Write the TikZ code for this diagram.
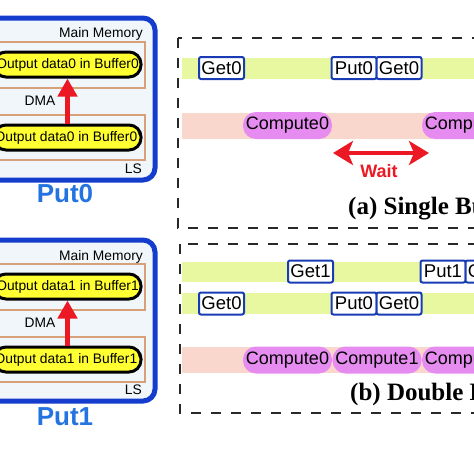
\documentclass[tikz,border=0pt]{standalone}
\usepackage{fontspec}
\setmainfont{Liberation Sans}
\newfontfamily\capfont{Liberation Serif}
\usetikzlibrary{arrows.meta}
\definecolor{memblue}{RGB}{20,60,205}
\definecolor{memfill}{RGB}{240,246,250}
\definecolor{tanc}{RGB}{215,160,120}
\definecolor{pilly}{RGB}{255,255,50}
\definecolor{arrred}{RGB}{235,25,35}
\definecolor{putblue}{RGB}{35,115,225}
\definecolor{bandg}{RGB}{232,248,160}
\definecolor{bandp}{RGB}{250,215,205}
\definecolor{compc}{RGB}{230,140,240}
\definecolor{boxblue}{RGB}{25,60,180}
\definecolor{dashc}{RGB}{40,40,40}
\tikzset{
  membox/.style={draw=memblue, line width=5pt, fill=memfill, rounded corners=12pt},
  tanrect/.style={draw=tanc, line width=2.5pt},
  pill/.style={draw=black, line width=3pt, fill=pilly, rounded corners=12pt,
    minimum height=25pt, minimum width=147pt, inner sep=0pt,
    font=\fontsize{13.8}{15}\selectfont},
  smalltext/.style={inner sep=0pt, font=\fontsize{13.8}{15}\selectfont},
  putlabel/.style={inner sep=0pt, text=putblue, font=\fontsize{26}{28}\selectfont\bfseries},
  dmaarrow/.style={draw=arrred, line width=5pt, -{Triangle[width=19pt,length=18pt]}},
  waitarrow/.style={draw=arrred, line width=4pt, {Stealth[width=24pt,length=20pt,inset=5pt]}-{Stealth[width=24pt,length=20pt,inset=5pt]}},
  waittext/.style={inner sep=0pt, text=arrred, font=\fontsize{18}{20}\selectfont\bfseries},
  frame/.style={draw=dashc, line width=1.5pt, dash pattern=on 10pt off 10pt},
  gband/.style={fill=bandg},
  pband/.style={fill=bandp},
  xferbox/.style={draw=boxblue, line width=2pt, fill=white, rounded corners=2pt,
    minimum width=45pt, minimum height=22pt, inner sep=0pt,
    font=\fontsize{18.5}{19}\selectfont},
  comppill/.style={fill=compc, rounded corners=13pt, minimum width=89pt, minimum height=27pt,
    inner sep=0pt, font=\fontsize{18}{19}\selectfont},
  captext/.style={inner sep=0pt, font=\fontsize{25}{27}\selectfont\capfont\bfseries}
}
\begin{document}
\begin{tikzpicture}[x=1pt,y=-1pt]
\useasboundingbox (0,0) rectangle (474,474);
\clip (0,0) rectangle (474,474);
\fill[white] (0,0) rectangle (474,474);

% ---------- left: Put0 ----------
\draw[membox] (-20,18) rectangle (155,180);
\draw[tanrect] (-20,42) rectangle (145,88);
\draw[tanrect] (-20,115) rectangle (145,160);
\node[smalltext, anchor=east] (mm0) at (143,34) {Main Memory};
\node[pill] (p0a) at (67.5,64.5) {Output data0 in Buffer0};
\node[pill] (p0b) at (67.5,137.5) {Output data0 in Buffer0'};
\node[smalltext] (dma0) at (40,101) {DMA};
\draw[dmaarrow] (p0b.north) -- (p0a.south);
\node[smalltext, anchor=east] (ls0) at (142,169) {LS};
\node[putlabel] (put0) at (65,194) {Put0};

% ---------- left: Put1 ----------
\draw[membox] (-20,240) rectangle (155,401);
\draw[tanrect] (-20,264) rectangle (145,310);
\draw[tanrect] (-20,337) rectangle (145,382);
\node[smalltext, anchor=east] (mm1) at (143,257) {Main Memory};
\node[pill] (p1a) at (67.5,286.5) {Output data1 in Buffer1};
\node[pill] (p1b) at (67.5,359.5) {Output data1 in Buffer1'};
\node[smalltext] (dma1) at (40,323) {DMA};
\draw[dmaarrow] (p1b.north) -- (p1a.south);
\node[smalltext, anchor=east] (ls1) at (142,390) {LS};
\node[putlabel] (put1) at (65,417) {Put1};

% ---------- right (a) single buffer ----------
\draw[frame] (178,38) rectangle (520,228);
\fill[gband] (182,58) rectangle (520,79);
\fill[pband] (182,113) rectangle (520,139);
\node[xferbox] (ag0) at (221.5,68) {Get0};
\node[xferbox] (ap0) at (354,68) {Put0};
\node[xferbox] (ag0b) at (399,68) {Get0};
\node[comppill] (ac0) at (287.5,125.5) {Compute0};
\node[comppill] (ac0b) at (466.5,125.5) {Compute0};
\coordinate (w1) at (333,153);
\coordinate (w2) at (429,153);
\draw[waitarrow] (w1) -- (w2);
\node[waittext] (wait) at (379,171) {Wait};
\node[captext, anchor=base west] (capa) at (348,214) {(a) Single Buffer};

% ---------- right (b) double buffer ----------
\draw[frame] (180,244) rectangle (520,413);
\fill[gband] (182,262) rectangle (520,282);
\fill[gband] (182,293) rectangle (520,314);
\fill[pband] (182,347) rectangle (520,373);
\node[xferbox] (bg1) at (310.5,271.5) {Get1};
\node[xferbox] (bp1) at (443,271.5) {Put1};
\node[xferbox] (bg1b) at (488,271.5) {Get1};
\node[xferbox] (bg0) at (221.5,303.5) {Get0};
\node[xferbox] (bp0) at (354,303.5) {Put0};
\node[xferbox] (bg0b) at (399,303.5) {Get0};
\node[comppill] (bc0) at (287.5,360) {Compute0};
\node[comppill] (bc1) at (377,360) {Compute1};
\node[comppill] (bc0b) at (466.5,360) {Compute0};
\node[captext, anchor=base west] (capb) at (350,400) {(b) Double Buffer};
\end{tikzpicture}
\end{document}
